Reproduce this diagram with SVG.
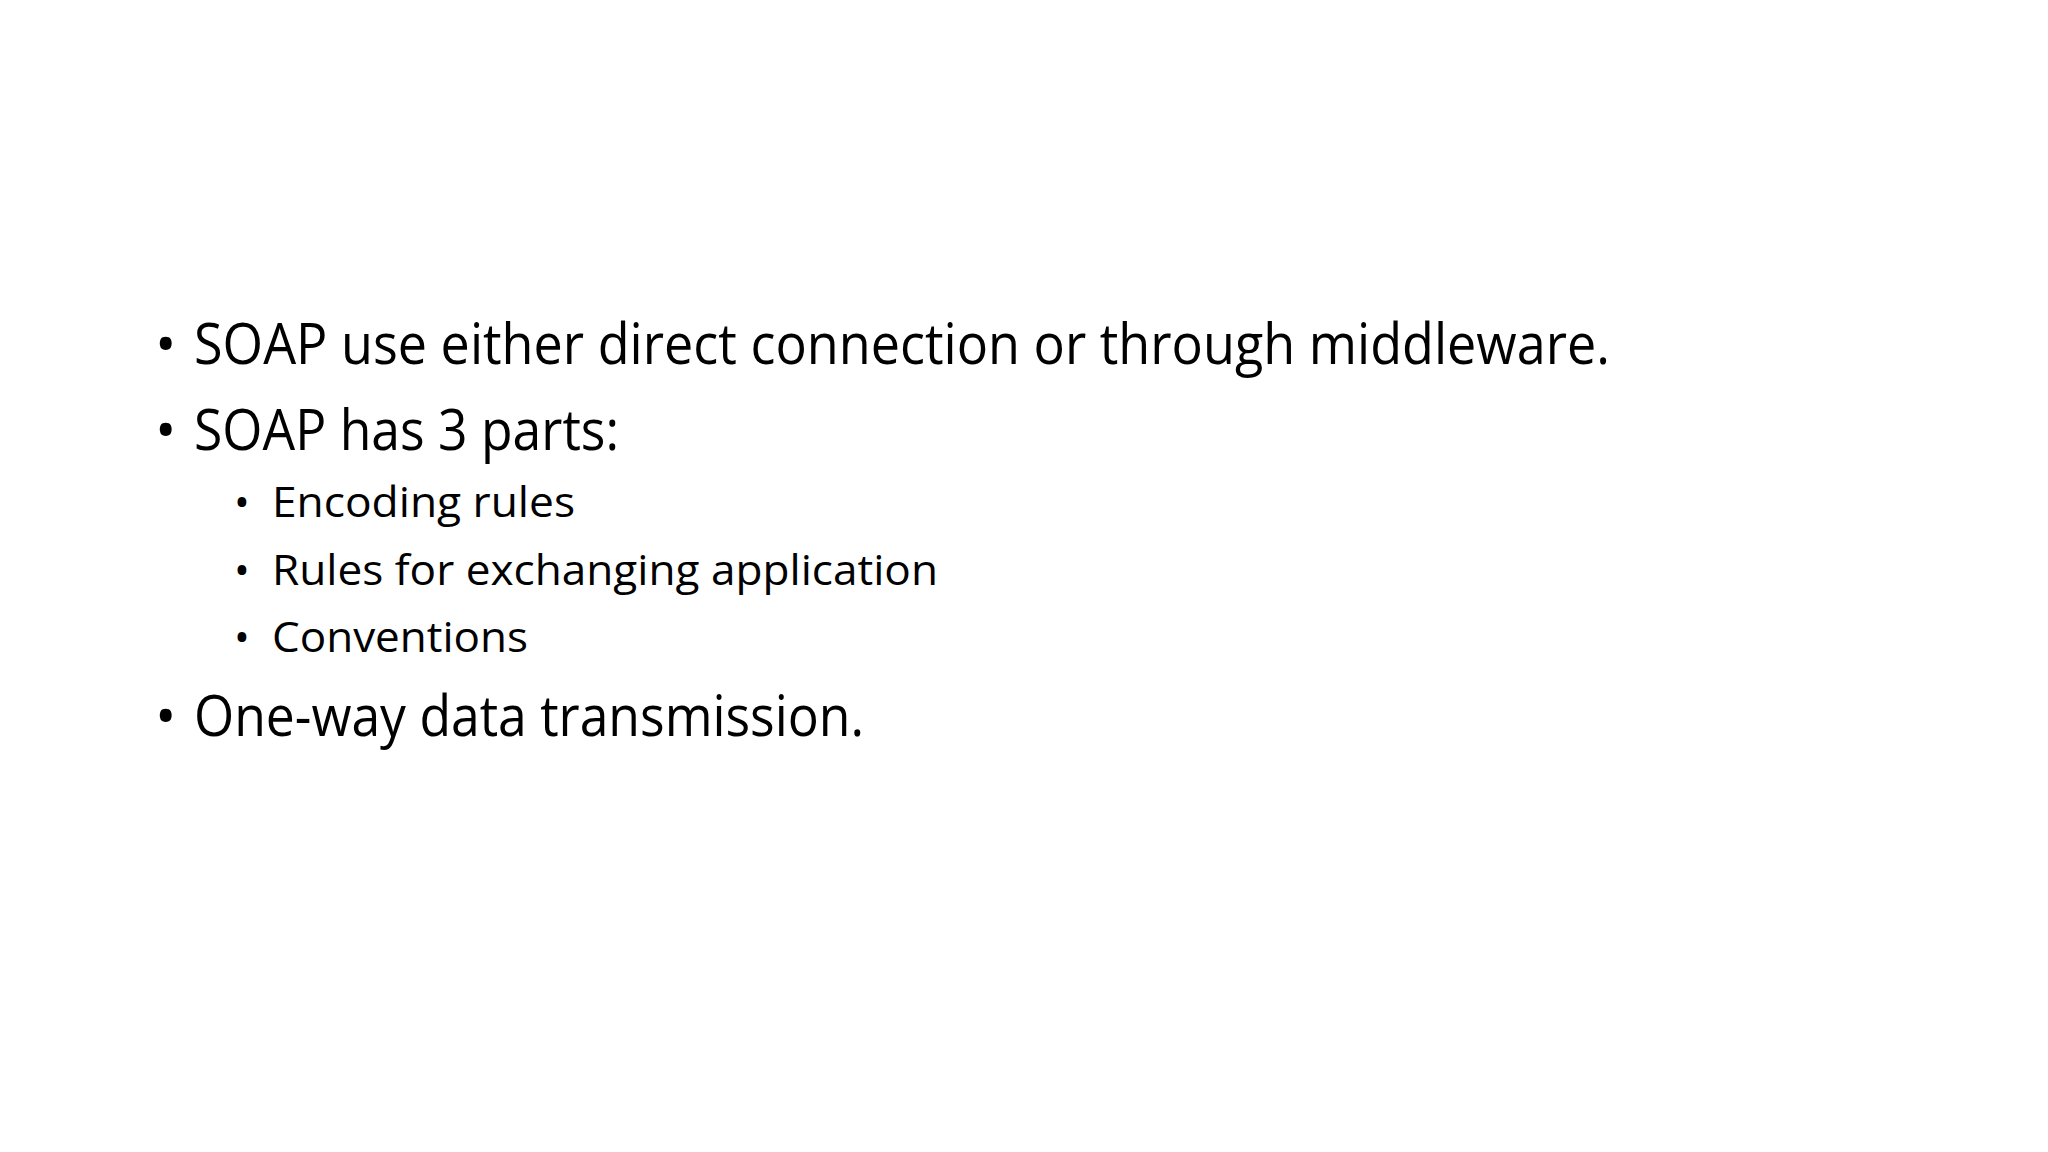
<svg xmlns="http://www.w3.org/2000/svg" width="2048" height="1152" viewBox="0 0 2048 1152">
<style>
.m{font-family:"Open Sans","Liberation Sans",sans-serif;font-size:57px;fill:#000}
.s{font-family:"Open Sans","Liberation Sans",sans-serif;font-size:42px;fill:#000}
</style>
<rect width="2048" height="1152" fill="#fff"/>
<g id="bullets">
<text class="m" x="155" y="364">•</text>
<text class="m" x="194" y="364" textLength="1416" lengthAdjust="spacingAndGlyphs">SOAP use either direct connection or through middleware.</text>
<text class="m" x="155" y="450">•</text>
<text class="m" x="194" y="450" textLength="425" lengthAdjust="spacingAndGlyphs">SOAP has 3 parts:</text>
<text class="s" x="234" y="517">•</text>
<text class="s" x="272" y="517" textLength="303" lengthAdjust="spacingAndGlyphs">Encoding rules</text>
<text class="s" x="234" y="585">•</text>
<text class="s" x="272" y="585" textLength="666" lengthAdjust="spacingAndGlyphs">Rules for exchanging application</text>
<text class="s" x="234" y="652">•</text>
<text class="s" x="272" y="652" textLength="256" lengthAdjust="spacingAndGlyphs">Conventions</text>
<text class="m" x="155" y="736">•</text>
<text class="m" x="194" y="736" textLength="670" lengthAdjust="spacingAndGlyphs">One-way data transmission.</text>
</g>
</svg>
